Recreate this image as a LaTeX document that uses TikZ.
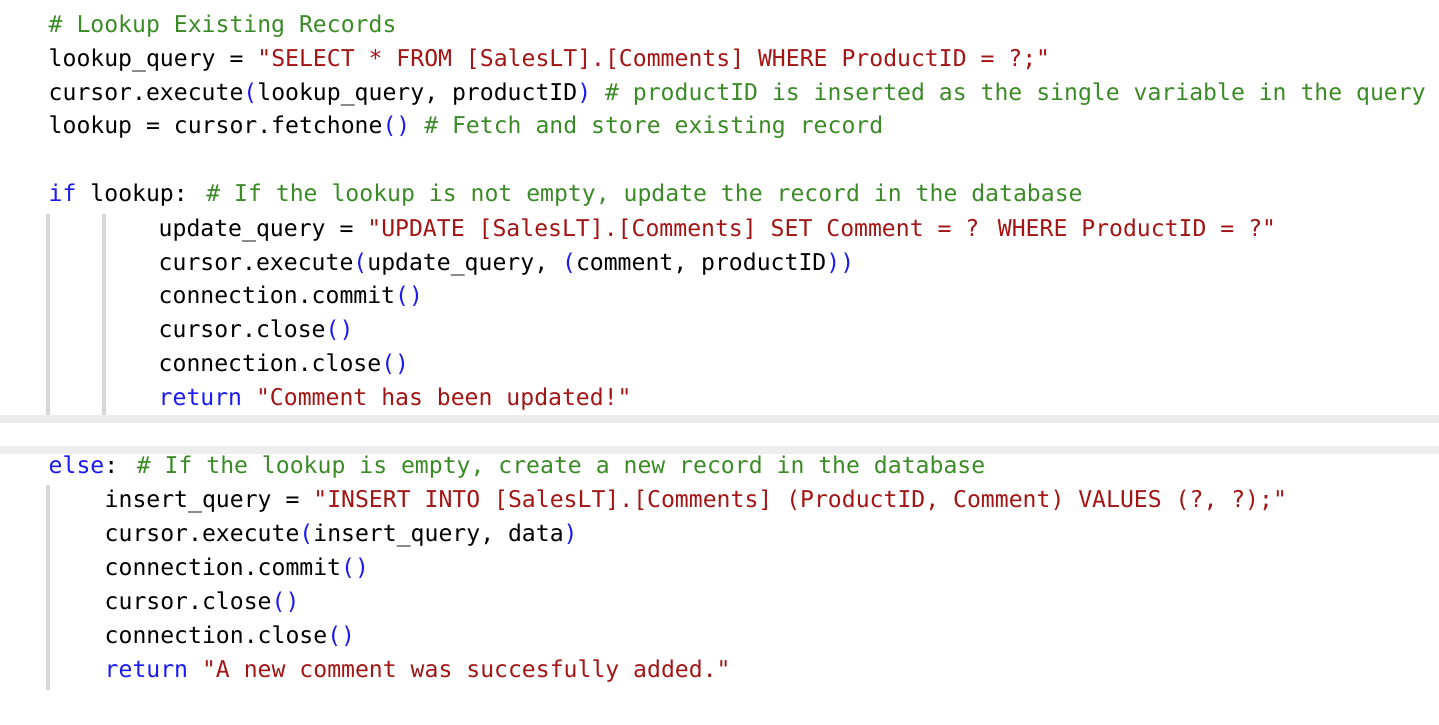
\documentclass[tikz,border=0pt]{standalone}
\usepackage{fontspec}
\newfontfamily\codefont{DejaVu Sans Mono}
\definecolor{kwblue}{HTML}{1A1AF0}
\definecolor{strred}{HTML}{A31515}
\definecolor{cmtgreen}{HTML}{3A8A26}
\definecolor{guidegray}{HTML}{D6D6D6}
\newcommand{\kw}[1]{\textcolor{kwblue}{#1}}
\newcommand{\strg}[1]{\textcolor{strred}{#1}}
\newcommand{\cmt}[1]{\textcolor{cmtgreen}{#1}}
\newcommand{\pbr}[1]{\textcolor{kwblue}{#1}}
\begin{document}
\begin{tikzpicture}[x=0.01cm, y=-0.01cm,
                    code line/.style={anchor=base west, inner sep=0pt, font=\codefont\fontsize{6.57pt}{8pt}\selectfont},
                    guide/.style={draw=guidegray, line width=1.2pt},
                    band/.style={draw=black!7, line width=2.2pt}]
  \useasboundingbox (0,0) rectangle (1439,725);

  % indent guides and cell separators
  \draw[guide] (48,214) -- (48,416);
  \draw[guide] (104,214) -- (104,416);
  \draw[guide] (48,485) -- (48,690);
  \draw[band] (0,419) -- (1439,419);
  \draw[band] (0,450) -- (1439,450);

  % lookup part
  \node[code line] (l1) at (48,33) {\cmt{\# Lookup Existing Records}};
  \node[code line] (l2) at (48,67) {lookup\_query = \strg{"SELECT * FROM [SalesLT].[Comments] WHERE ProductID = ?;"}};
  \node[code line] (l3) at (48,101) {cursor.execute\pbr{(}lookup\_query, productID\pbr{)} \cmt{\# productID is inserted as the single variable in the query}};
  \node[code line] (l4) at (48,134) {lookup = cursor.fetchone\pbr{()} \cmt{\# Fetch and store existing record}};

  % if branch
  \node[code line] (l5) at (48,202) {\kw{if} lookup: \cmt{\# If the lookup is not empty, update the record in the database}};
  \node[code line] (l6) at (158,237) {update\_query = \strg{"UPDATE [SalesLT].[Comments] SET Comment = ? WHERE ProductID = ?"}};
  \node[code line] (l7) at (158,271) {cursor.execute\pbr{(}update\_query, \pbr{(}comment, productID\pbr{))}};
  \node[code line] (l8) at (158,304) {connection.commit\pbr{()}};
  \node[code line] (l9) at (158,338) {cursor.close\pbr{()}};
  \node[code line] (l10) at (158,372) {connection.close\pbr{()}};
  \node[code line] (l11) at (158,406) {\kw{return} \strg{"Comment has been updated!"}};

  % else branch
  \node[code line] (l12) at (48,474) {\kw{else}: \cmt{\# If the lookup is empty, create a new record in the database}};
  \node[code line] (l13) at (104,508) {insert\_query = \strg{"INSERT INTO [SalesLT].[Comments] (ProductID, Comment) VALUES (?, ?);"}};
  \node[code line] (l14) at (104,542) {cursor.execute\pbr{(}insert\_query, data\pbr{)}};
  \node[code line] (l15) at (104,576) {connection.commit\pbr{()}};
  \node[code line] (l16) at (104,610) {cursor.close\pbr{()}};
  \node[code line] (l17) at (104,644) {connection.close\pbr{()}};
  \node[code line] (l18) at (104,678) {\kw{return} \strg{"A new comment was succesfully added."}};

\end{tikzpicture}
\end{document}
